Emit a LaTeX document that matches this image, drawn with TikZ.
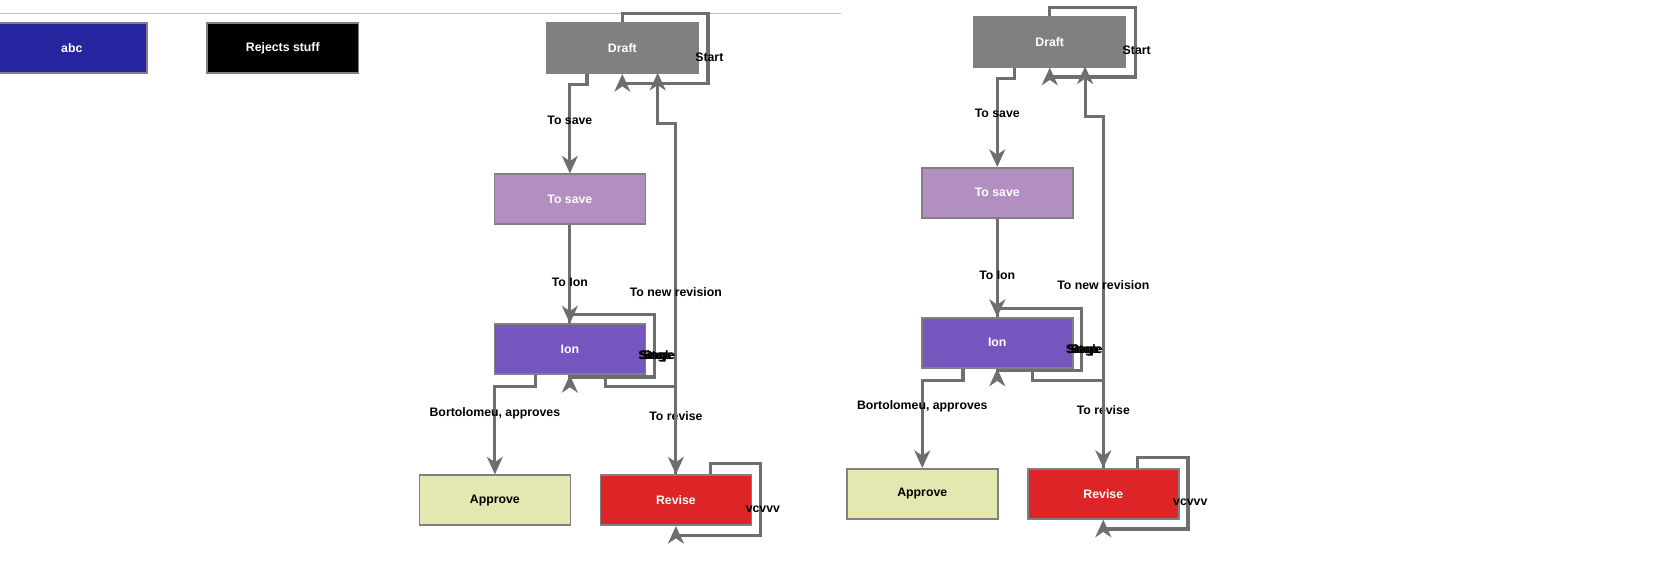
\documentclass[tikz,border=0pt]{standalone}
\usepackage{fontspec}
\setmainfont{Liberation Sans}
\usetikzlibrary{arrows.meta}
\definecolor{cDraft}{HTML}{808080}
\definecolor{cSave}{HTML}{B28FC0}
\definecolor{cIon}{HTML}{7655BF}
\definecolor{cApprove}{HTML}{E5E7B0}
\definecolor{cRevise}{HTML}{DD2427}
\definecolor{cAbc}{HTML}{2525A0}
\definecolor{cLink}{HTML}{6E6E6E}
\tikzset{
    box/.style={draw=cDraft, line width=0.9pt, minimum width=3.02cm, minimum height=1.0cm,
        inner sep=0pt, font=\fontsize{7}{8}\selectfont\bfseries, text=white},
    link/.style={draw=cLink, line width=1.8pt, -{Stealth[length=10pt,width=9pt,inset=3pt]}},
    lbl/.style={font=\fontsize{7}{8}\selectfont\bfseries, text=black, inner sep=1pt},
}
\newcommand{\flow}[3]{%
\begin{scope}[shift={(#2,#3)}]
    \node[box, fill=cDraft](#1-draft)                  at (581,45) {Draft};
    \node[box, fill=cSave](#1-save)                    at (532,186) {To save};
    \node[box, fill=cIon](#1-ion)                      at (532,326) {Ion};
    \node[box, fill=cApprove, text=black](#1-approve)  at (462,467) {Approve};
    \node[box, fill=cRevise](#1-revise)                at (631,467) {Revise};
\end{scope}
    % Transitions
    \draw[link] (#1-draft.south) ++(-33,0) -- ++(0,10) -| node[lbl, pos=0.7]{To save} (#1-save.north);
    \draw[link] (#1-save.south) -- node[lbl, pos=0.58]{To Ion} (#1-ion.north);
    \draw[link] (#1-ion.north) -- ++(0,-8) -| ++(79,58) -| (#1-ion.south);
    \draw[link] (#1-ion.south) ++(-32,0) -- ++(0,11) -| node[lbl, pos=0.65]{Bortolomeu, approves} (#1-approve.north);
    \draw[link] (#1-ion.south) ++(33,0) -- ++(0,11) -| node[lbl, pos=0.67]{To revise} (#1-revise.north);
    \draw[link] (#1-revise.north) -- node[lbl, pos=0.52]{To new revision} ++(0,-328) -| ++(-17,-47);
    \draw[link] (#1-revise.north) ++(32,0) -- ++(0,-10) -| ++(47,67) -| (#1-revise.south);
    \draw[link] (#1-draft.north) -- ++(0,-8) -| ++(80,65) -| (#1-draft.south);
    \path (#1-draft.east) ++(10,8) node[lbl]{Start};
    \path (#1-revise.east) ++(10,8) node[lbl]{vcvvv};
    \path (#1-ion.east) ++(10,7) node[lbl]{Stop};
    \path (#1-ion.east) ++(10,7) node[lbl]{Single};
    \path (#1-ion.east) ++(10,7) node[lbl]{Stage};
}
\begin{document}
\begin{tikzpicture}[x=0.02142cm, y=-0.02142cm]
    \useasboundingbox[fill=white] (0,0) rectangle (1560,534);
    \draw[gray!50, line width=0.6pt] (0,13) -- (785,13);
    \node[box, fill=cAbc](abc)        at (67,45) {abc};
    \node[box, fill=black](rejects)   at (264,45) {Rejects stuff};
    \flow{l}{0}{0}
    \flow{r}{399}{-6}
\end{tikzpicture}
\end{document}
